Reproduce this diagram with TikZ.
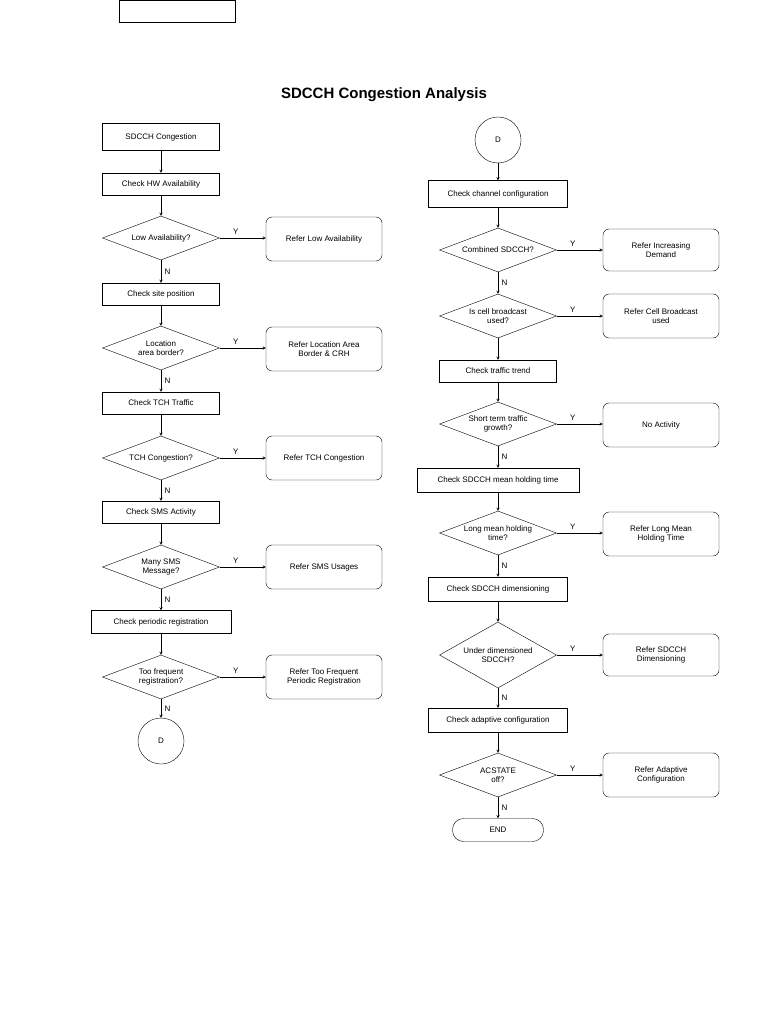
\documentclass[tikz,border=0pt]{standalone}
\usepackage{fontspec}
\setmainfont{Liberation Sans}
\usetikzlibrary{shapes.geometric}
\tikzset{
  box/.style={rectangle,draw,minimum width=117pt,minimum height=22pt,inner sep=1pt,font=\fontsize{8}{9}\selectfont},
  dec/.style={diamond,draw,aspect=2.66,minimum width=117pt,minimum height=44pt,inner sep=0pt,align=center,font=\fontsize{8}{9}\selectfont},
  refer/.style={rectangle,rounded corners=6pt,draw,minimum width=116pt,minimum height=44pt,align=center,font=\fontsize{8}{9}\selectfont},
  conn/.style={circle,draw,minimum size=46pt,font=\fontsize{8}{9}\selectfont},
  lbl/.style={font=\fontsize{8}{9}\selectfont},
  arr/.style={-stealth}
}
\begin{document}
\begin{tikzpicture}[x=1pt,y=-1pt]
\useasboundingbox (0,0) rectangle (768,1024);
\node at (177,11) [rectangle,draw,minimum width=116pt,minimum height=22pt] (topbox) {};
\node at (384,95) [font=\fontsize{15}{17}\selectfont\bfseries] (title) {SDCCH Congestion Analysis};
% left column
\node at (161,137) [box,minimum height=27pt] (start) {SDCCH Congestion};
\node at (161,184) [box] (hw) {Check HW Availability};
\node at (161,238) [dec] (lowav) {Low Availability?};
\node at (324,239) [refer] (rlowav) {Refer Low Availability};
\node at (161,294) [box] (site) {Check site position};
\node at (161,348) [dec] (lab) {Location\\area border?};
\node at (324,349) [refer] (rlab) {Refer Location Area\\Border \& CRH};
\node at (161,403) [box] (tch) {Check TCH Traffic};
\node at (161,458) [dec] (tchc) {TCH Congestion?};
\node at (324,458) [refer] (rtchc) {Refer TCH Congestion};
\node at (161,512) [box] (sms) {Check SMS Activity};
\node at (161,567) [dec] (msms) {Many SMS\\Message?};
\node at (324,567) [refer] (rmsms) {Refer SMS Usages};
\node at (161,622) [box,minimum width=140pt,minimum height=23pt] (per) {Check periodic registration};
\node at (161,677) [dec] (freq) {Too frequent\\registration?};
\node at (324,677) [refer] (rfreq) {Refer Too Frequent\\Periodic Registration};
\node at (161,741) [conn] (d1) {D};
% right column
\node at (498,140) [conn] (d2) {D};
\node at (498,194) [box,minimum width=139pt,minimum height=27pt] (chan) {Check channel configuration};
\node at (498,250) [dec] (comb) {Combined SDCCH?};
\node at (661,250) [refer,minimum height=42pt] (rcomb) {Refer Increasing\\Demand};
\node at (498,316) [dec] (cb) {Is cell broadcast\\used?};
\node at (661,316) [refer] (rcb) {Refer Cell Broadcast\\used};
\node at (498,371) [box] (trend) {Check traffic trend};
\node at (498,424) [dec] (short) {Short term traffic\\growth?};
\node at (661,425) [refer] (noact) {No Activity};
\node at (498,480) [box,minimum width=162pt,minimum height=24pt] (hold) {Check SDCCH mean holding time};
\node at (498,533) [dec] (long) {Long mean holding\\time?};
\node at (661,534) [refer] (rlong) {Refer Long Mean\\Holding Time};
\node at (498,589) [box,minimum width=139pt,minimum height=24pt] (dim) {Check SDCCH dimensioning};
\node at (498,655) [dec,aspect=1.77,minimum height=66pt] (under) {Under dimensioned\\SDCCH?};
\node at (661,655) [refer,minimum height=42pt] (runder) {Refer SDCCH\\Dimensioning};
\node at (498,720) [box,minimum width=139pt,minimum height=24pt] (adapt) {Check adaptive configuration};
\node at (498,775) [dec] (acs) {ACSTATE\\off?};
\node at (661,775) [refer] (racs) {Refer Adaptive\\Configuration};
\node at (498,830) [rectangle,rounded corners=11pt,draw,minimum width=91pt,minimum height=23pt,lbl] (end) {END};
% vertical flow
\draw[arr] (start) -- (hw);
\draw[arr] (hw) -- (lowav);
\draw[arr] (lowav) -- node[lbl,right,pos=0.5]{N} (site);
\draw[arr] (site) -- (lab);
\draw[arr] (lab) -- node[lbl,right]{N} (tch);
\draw[arr] (tch) -- (tchc);
\draw[arr] (tchc) -- node[lbl,right]{N} (sms);
\draw[arr] (sms) -- (msms);
\draw[arr] (msms) -- node[lbl,right]{N} (per);
\draw[arr] (per) -- (freq);
\draw[arr] (freq) -- node[lbl,right]{N} (d1);
\draw[arr] (d2) -- (chan);
\draw[arr] (chan) -- (comb);
\draw[arr] (comb) -- node[lbl,right]{N} (cb);
\draw[arr] (cb) -- (trend);
\draw[arr] (trend) -- (short);
\draw[arr] (short) -- node[lbl,right]{N} (hold);
\draw[arr] (hold) -- (long);
\draw[arr] (long) -- node[lbl,right]{N} (dim);
\draw[arr] (dim) -- (under);
\draw[arr] (under) -- node[lbl,right]{N} (adapt);
\draw[arr] (adapt) -- (acs);
\draw[arr] (acs) -- node[lbl,right]{N} (end);
% yes branches
\draw[arr] (lowav.east) -- node[lbl,above,pos=0.35]{Y} (rlowav.west|-lowav.east);
\draw[arr] (lab.east) -- node[lbl,above,pos=0.35]{Y} (rlab.west|-lab.east);
\draw[arr] (tchc.east) -- node[lbl,above,pos=0.35]{Y} (rtchc.west|-tchc.east);
\draw[arr] (msms.east) -- node[lbl,above,pos=0.35]{Y} (rmsms.west|-msms.east);
\draw[arr] (freq.east) -- node[lbl,above,pos=0.35]{Y} (rfreq.west|-freq.east);
\draw[arr] (comb.east) -- node[lbl,above,pos=0.35]{Y} (rcomb.west|-comb.east);
\draw[arr] (cb.east) -- node[lbl,above,pos=0.35]{Y} (rcb.west|-cb.east);
\draw[arr] (short.east) -- node[lbl,above,pos=0.35]{Y} (noact.west|-short.east);
\draw[arr] (long.east) -- node[lbl,above,pos=0.35]{Y} (rlong.west|-long.east);
\draw[arr] (under.east) -- node[lbl,above,pos=0.35]{Y} (runder.west|-under.east);
\draw[arr] (acs.east) -- node[lbl,above,pos=0.35]{Y} (racs.west|-acs.east);
\end{tikzpicture}
\end{document}
